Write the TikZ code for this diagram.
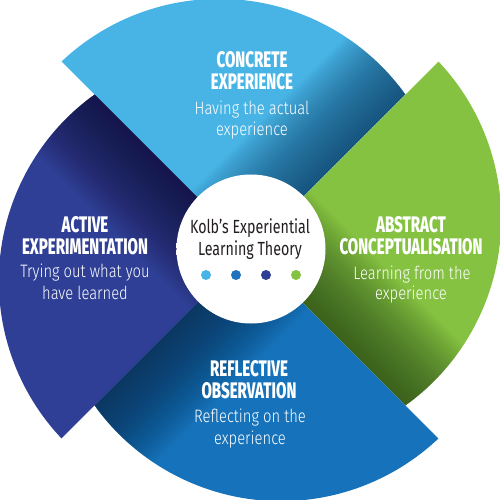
\documentclass[tikz,border=0pt]{standalone}
\usepackage{fontspec}
\newfontfamily\headfont{Fira Sans ExtraBold}[FakeStretch=0.67]
\newfontfamily\bodyfont{Fira Sans Light}[FakeStretch=0.82]
\newfontfamily\centerfont{Fira Sans}[FakeStretch=0.75]
\definecolor{lb}{HTML}{48B4E6}
\definecolor{gr}{HTML}{85C241}
\definecolor{bb}{HTML}{1673BB}
\definecolor{db}{HTML}{2F3F96}
\definecolor{lbd}{HTML}{0E3F66}
\definecolor{grd}{HTML}{2B4A1C}
\definecolor{bbd}{HTML}{0B2B4D}
\definecolor{dbd}{HTML}{15133A}
\definecolor{txt}{HTML}{231F20}
\definecolor{d1}{HTML}{48B4E6}
\definecolor{d2}{HTML}{1F72BD}
\definecolor{d3}{HTML}{2E3E95}
\definecolor{d4}{HTML}{84C241}
\pgfdeclareradialshading{ballw}{\pgfpoint{-8bp}{10bp}}{color(0bp)=(white); color(32bp)=(white); color(44bp)=(black!4); color(56bp)=(black!14); color(80bp)=(black!20)}
\begin{document}
\begin{tikzpicture}[x=1pt,y=1pt,
  head/.style={font=\headfont\fontsize{22.5}{22}\selectfont, text=white, anchor=base, inner sep=0pt, text height=16pt, text depth=0pt},
  body/.style={font=\bodyfont\fontsize{18}{21}\selectfont, text=white, anchor=base, inner sep=0pt},
  ctext/.style={font=\centerfont\fontsize{19}{21}\selectfont, text=txt, anchor=base, inner sep=0pt},
  dotn/.style={circle, minimum size=10pt, inner sep=0pt}]
\useasboundingbox (-250,-250) rectangle (250,250);
% four sectors
\foreach \r/\base/\dark in {0/lb/lbd, -90/gr/grd, -180/bb/bbd, 90/db/dbd}{
  \begin{scope}[rotate=\r]
    \fill[\base] (0,0) -- (155.4,155.4) arc[start angle=35.6, end angle=133.4, radius=229.2pt] -- cycle;
    \begin{scope}
      \clip (0,0) -- (155.4,155.4) arc[start angle=35.6, end angle=133.4, radius=229.2pt] -- cycle;
      \foreach \i in {1,...,32}{
        \begin{scope}[rotate=45]
          \fill[\dark, opacity=0.038] (-20,0) -- (340,0) -- (340,2.6*\i) -- (-20,2.6*\i) -- cycle;
        \end{scope}
      }
    \end{scope}
  \end{scope}
}
% hub
\node[circle, minimum size=149pt, inner sep=0pt, shading=ballw] (hub) at (1,1) {};
\node[ctext] (k1) at (0,16) {Kolb’s Experiential};
\node[ctext] (k2) at (0,-6) {Learning Theory};
\node[dotn, fill=d1] (p1) at (-44,-25) {};
\node[dotn, fill=d2] (p2) at (-14,-25) {};
\node[dotn, fill=d3] (p3) at (16,-25) {};
\node[dotn, fill=d4] (p4) at (46,-25) {};
% top
\node[head] (t1) at (2,182) {CONCRETE};
\node[head] (t2) at (2,160) {EXPERIENCE};
\node[body] (t3) at (2,135.5) {Having the actual};
\node[body] (t4) at (2,114) {experience};
% left
\node[head] (l1) at (-165,17) {ACTIVE};
\node[head] (l2) at (-165,-5) {EXPERIMENTATION};
\node[body] (l3) at (-165,-28) {Trying out what you};
\node[body] (l4) at (-165,-50) {have learned};
% right
\node[head] (r1) at (161,17) {ABSTRACT};
\node[head] (r2) at (161,-5) {CONCEPTUALISATION};
\node[body] (r3) at (162,-29.5) {Learning from the};
\node[body] (r4) at (161,-50) {experience};
% bottom
\node[head] (b1) at (-1,-126.5) {REFLECTIVE};
\node[head] (b2) at (-1,-148.5) {OBSERVATION};
\node[body] (b3) at (0,-172.5) {Reflecting on the};
\node[body] (b4) at (0,-194) {experience};
\end{tikzpicture}
\end{document}
